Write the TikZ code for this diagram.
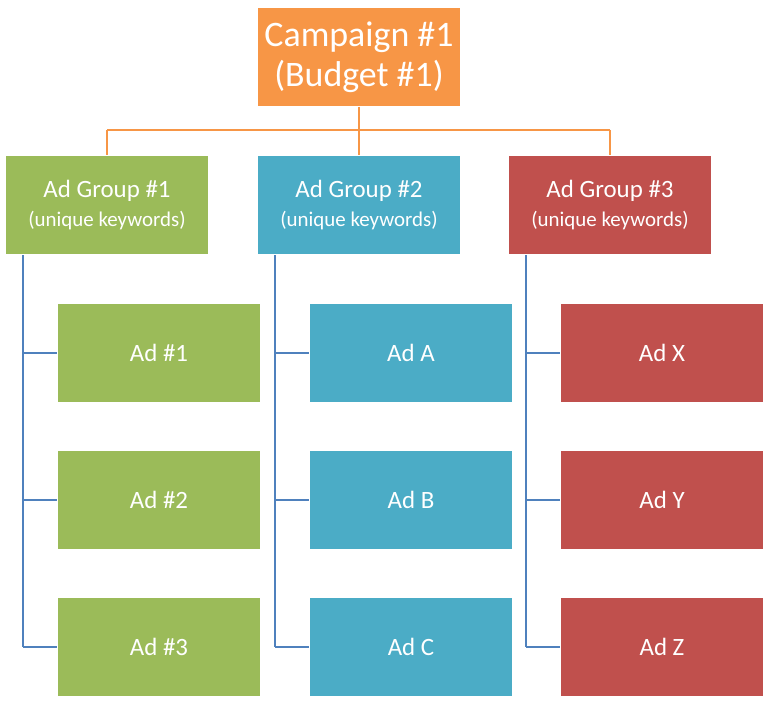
\documentclass[tikz,border=0pt]{standalone}
\usepackage{fontspec}
\setmainfont{Carlito}
\definecolor{ogreen}{HTML}{9BBB59}
\definecolor{oblue}{HTML}{4BACC6}
\definecolor{ored}{HTML}{C0504D}
\definecolor{oorange}{HTML}{F79646}
\definecolor{oline}{HTML}{4F81BD}
\tikzset{basic/.style={draw=white,line width=1pt,text=white,align=center,
                       minimum width=203bp,minimum height=99bp,inner sep=0pt}}
\tikzset{campaign/.style={basic,fill=oorange,font=\fontsize{36}{40}\selectfont}}
\tikzset{group/.style={basic,font=\fontsize{25}{30}\selectfont}}
\tikzset{ad/.style={basic,font=\fontsize{25}{30}\selectfont}}
\tikzset{tree/.style={draw=oline,line width=2.5pt}}
\tikzset{top/.style={draw=oorange,line width=2.5pt}}
\begin{document}
\begin{tikzpicture}[x=1bp,y=-1bp]
    \useasboundingbox (0,0) rectangle (768,703);
    % Campaign node
    \node[campaign] (camp) at (359,57) {Campaign \#1\\(Budget \#1)};
    % Ad groups with their ads
    \foreach \c/\x/\ads [count=\gi] in {ogreen/107/{\#1,\#2,\#3},
                                     oblue/359/{A,B,C},
                                     ored/610/{X,Y,Z}}{%
          \node[group,fill=\c] (g\gi) at (\x,205)
               {Ad Group \#\gi\\{\fontsize{21}{26}\selectfont(unique keywords)}};
          \coordinate (bus\gi) at (\x-84,255);
          \foreach \a [count=\ai] in \ads{%
                \node[ad,fill=\c] (a\gi\ai) at (\x+52,206+147*\ai) {Ad \a};
                \draw[tree] (bus\gi |- a\gi\ai) -- (a\gi\ai.west);
              }
          \draw[tree] (bus\gi) -- (bus\gi |- a\gi3);
          % Orange bracket from campaign
          \coordinate (j\gi) at (\x,130);
          \draw[top] (j\gi) -- (g\gi.north);
        }
    \draw[top] (j1) -- (j3);
    \draw[top] (camp.south) -- (j2);
\end{tikzpicture}
\end{document}
